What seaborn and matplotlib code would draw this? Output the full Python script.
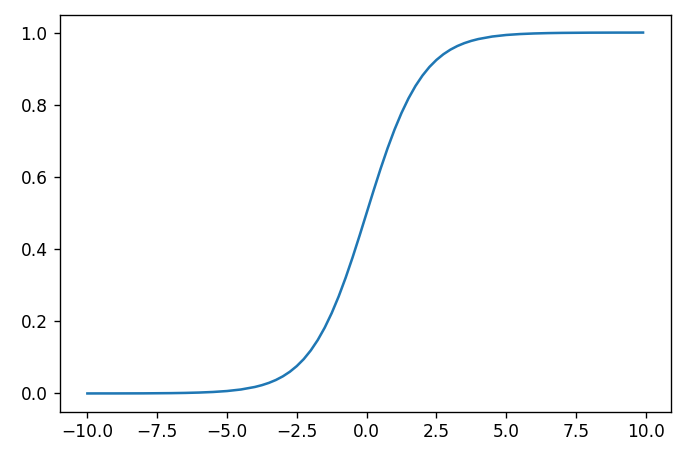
import matplotlib
matplotlib.use("Agg")
import matplotlib.pyplot as plt
import seaborn as sns
import pandas as pd

# Points (x, y)
x_vals = [-10.0, -9.5, -9.0, -8.5, -8.0, -7.5, -7.0, -6.5, -6.0, -5.5, -5.0, -4.5,
          -4.0, -3.75, -3.5, -3.25, -3.0, -2.75, -2.5, -2.25, -2.0, -1.75, -1.5, -1.25,
          -1.0, -0.75, -0.5, -0.25, 0.0, 0.25, 0.5, 0.75, 1.0, 1.25, 1.5, 1.75,
          2.0, 2.25, 2.5, 2.75, 3.0, 3.25, 3.5, 3.75, 4.0, 4.5, 5.0, 5.5,
          6.0, 6.5, 7.0, 7.5, 8.0, 8.5, 9.0, 9.5, 9.9]
y_vals = [0.0000, 0.0001, 0.0001, 0.0002, 0.0003, 0.0006, 0.0009, 0.0015, 0.0025, 0.0041, 0.0067, 0.0110,
          0.0180, 0.0230, 0.0293, 0.0373, 0.0474, 0.0601, 0.0759, 0.0953, 0.1192, 0.1480, 0.1824, 0.2227,
          0.2689, 0.3208, 0.3775, 0.4378, 0.5000, 0.5622, 0.6225, 0.6792, 0.7311, 0.7773, 0.8176, 0.8520,
          0.8808, 0.9047, 0.9241, 0.9399, 0.9526, 0.9627, 0.9707, 0.9770, 0.9820, 0.9890, 0.9933, 0.9959,
          0.9975, 0.9985, 0.9991, 0.9994, 0.9997, 0.9998, 0.9999, 0.9999, 1.0000]

df = pd.DataFrame({"x": x_vals, "y": y_vals})

fig = plt.figure(figsize=(693 / 122, 455 / 122), dpi=122)
ax = fig.add_axes([0.086, 0.0956, 0.882, 0.8725])
sns.lineplot(data=df, x="x", y="y", color="#1f77b4", linewidth=1.5, ax=ax)
ax.set_xlabel("")
ax.set_ylabel("")
ax.set_xticks([-10, -7.5, -5, -2.5, 0, 2.5, 5, 7.5, 10])

fig.savefig("out.png", dpi=122)
